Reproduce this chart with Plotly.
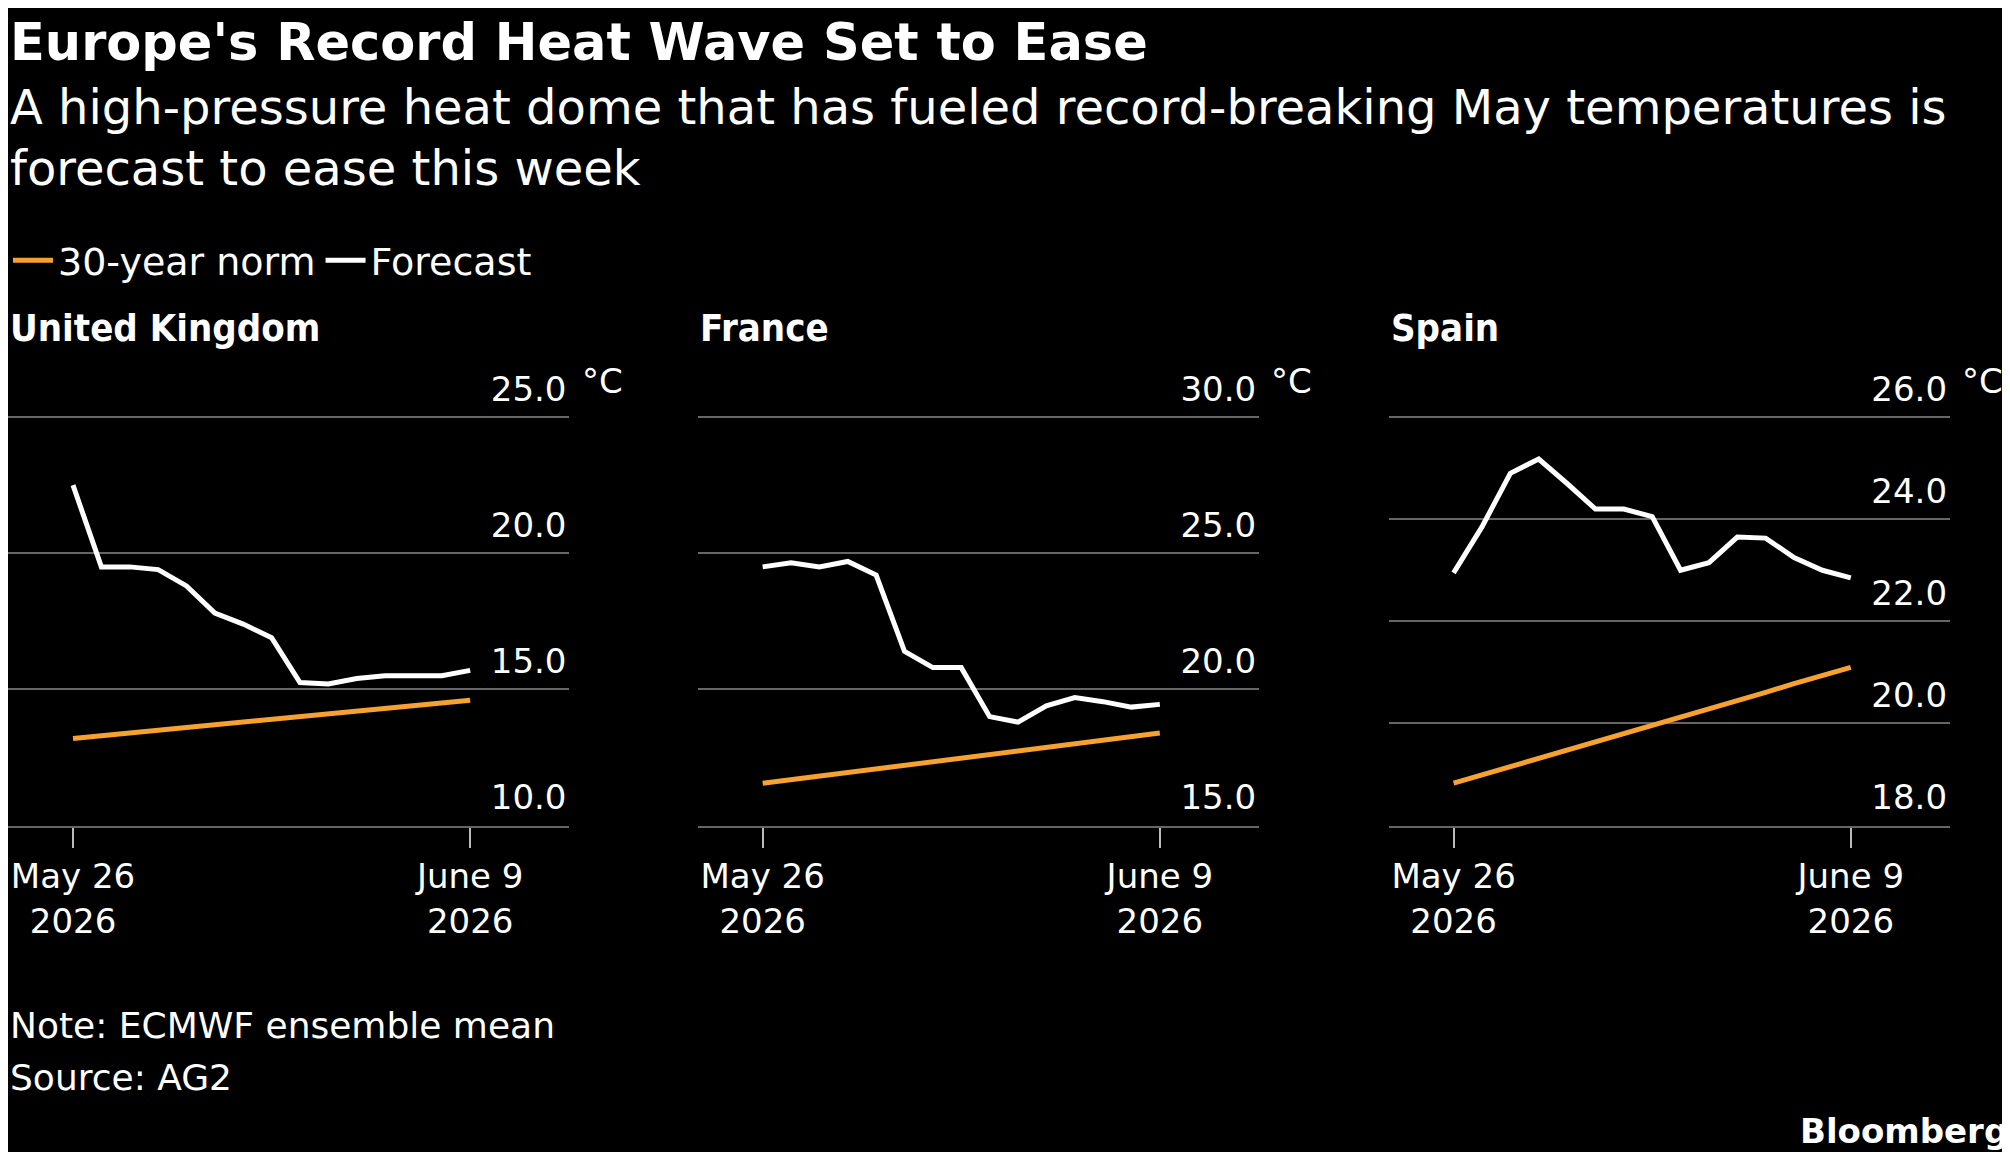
import plotly.graph_objects as go
import pandas as pd

dates = pd.date_range("2026-05-26", "2026-06-09", freq="D")
uk_fc = [22.5,19.5,19.5,19.4,18.8,17.8,17.4,16.9,15.25,15.2,15.4,15.5,15.5,15.5,15.7]
uk_norm = [13.2,13.3,13.4,13.5,13.6,13.7,13.8,13.9,14.0,14.1,14.2,14.3,14.4,14.5,14.6]
fr_fc = [24.5,24.65,24.5,24.7,24.2,21.4,20.8,20.8,19.0,18.8,19.4,19.7,19.55,19.35,19.45]
fr_norm = [16.55,16.68,16.81,16.95,17.08,17.21,17.34,17.48,17.61,17.74,17.87,18.0,18.14,18.27,18.4]
es_fc = [22.95,23.85,24.9,25.18,24.7,24.2,24.2,24.05,23.0,23.15,23.65,23.63,23.25,23.0,22.85]
es_norm = [18.83,18.99,19.15,19.32,19.48,19.64,19.8,19.96,20.13,20.29,20.45,20.61,20.78,20.94,21.1]
panels = ["United Kingdom", "France", "Spain"]
yranges = [(10, 25), (15, 30), (18, 26)]
yticks = [[10, 15, 20, 25], [15, 20, 25, 30], [18, 20, 22, 24, 26]]
xtick_labels = ["May 26<br>2026", "June 9<br>2026"]

ORANGE = "#f7a12e"
FONT = "DejaVu Sans, sans-serif"
W, H = 2010, 1152
doms = [(0, 438), (538, 976), (1077, 1515)]
ydom = [1 - 638 / 899, 1 - 318 / 899]

fig = go.Figure()
data = [(uk_norm, uk_fc), (fr_norm, fr_fc), (es_norm, es_fc)]
for i, (norm, fc) in enumerate(data):
    xa = "x" if i == 0 else f"x{i+1}"
    ya = "y" if i == 0 else f"y{i+1}"
    fig.add_trace(go.Scatter(x=dates, y=norm, mode="lines", line=dict(color=ORANGE, width=5),
                             name="30-year norm", showlegend=(i == 0), xaxis=xa, yaxis=ya))
    fig.add_trace(go.Scatter(x=dates, y=fc, mode="lines", line=dict(color="white", width=5),
                             name="Forecast", showlegend=(i == 0), xaxis=xa, yaxis=ya))
    d0, d1 = doms[i]
    lo, hi = yranges[i]
    fig.layout[f"xaxis{'' if i == 0 else i+1}"] = dict(
        domain=[d0 / 1568, d1 / 1568], anchor=ya, type="date", automargin=False,
        range=[pd.Timestamp("2026-05-26") - pd.Timedelta(hours=55), pd.Timestamp("2026-06-09") + pd.Timedelta(hours=84)],
        tickvals=[dates[0], dates[-1]], ticktext=xtick_labels,
        ticks="outside", ticklen=20, tickwidth=2, tickcolor="#bbbbbb",
        showgrid=False, showline=True, linecolor="#666666", linewidth=2,
        tickfont=dict(size=34, color="white"), fixedrange=True)
    fig.layout[f"yaxis{'' if i == 0 else i+1}"] = dict(
        domain=ydom, anchor=xa, range=[lo, hi + (hi - lo) * 0.004], side="right", automargin=False,
        tickvals=yticks[i], ticktext=[f"{v:.1f}" for v in yticks[i]],
        ticklabelposition="inside", ticklabelshift=-28, ticklabeloverflow="allow", ticks="",
        showgrid=True, gridcolor="#666666", gridwidth=2, zeroline=False,
        tickfont=dict(size=34, color="white"), fixedrange=True)
    fig.add_annotation(text=f"<b>{panels[i]}</b>", x=d0 / 1568, y=1 - 250 / 899, xref="paper", yref="paper",
                       xanchor="left", yanchor="middle", showarrow=False,
                       font=dict(size=38, color="white", family="DejaVu Sans Condensed, DejaVu Sans, sans-serif"))
    fig.add_annotation(text="°C", x=(d1 + 8) / 1568, y=1 - 291 / 899, xref="paper", yref="paper",
                       xanchor="left", yanchor="middle", showarrow=False,
                       font=dict(size=34, color="white"))

def ann(text, x, y, size, bold=False, xanchor="left"):
    fig.add_annotation(text=f"<b>{text}</b>" if bold else text, x=x / 1568, y=1 - y / 899,
                       xref="paper", yref="paper", xanchor=xanchor, yanchor="middle",
                       showarrow=False, align="left", font=dict(size=size, color="white"))

ann("Europe's Record Heat Wave Set to Ease", 0, 27, 51, bold=True)
ann("A high-pressure heat dome that has fueled record-breaking May temperatures is", 0, 77, 48)
ann("forecast to ease this week", 0, 125, 48)
ann("Note: ECMWF ensemble mean", 0, 794, 36)
ann("Source: AG2", 0, 835, 36)
ann("Bloomberg", 1562, 876, 34, bold=True, xanchor="right")

fig.update_layout(
    width=W, height=H, margin=dict(l=0, r=0, t=0, b=0, autoexpand=False),
    paper_bgcolor="black", plot_bgcolor="black",
    font=dict(family=FONT, color="white"),
    legend=dict(orientation="h", x=0, y=1 - 197 / 899, xanchor="left", yanchor="middle",
                font=dict(size=38, color="white"), bgcolor="rgba(0,0,0,0)", itemwidth=40),
)
fig.write_html("out.html")
